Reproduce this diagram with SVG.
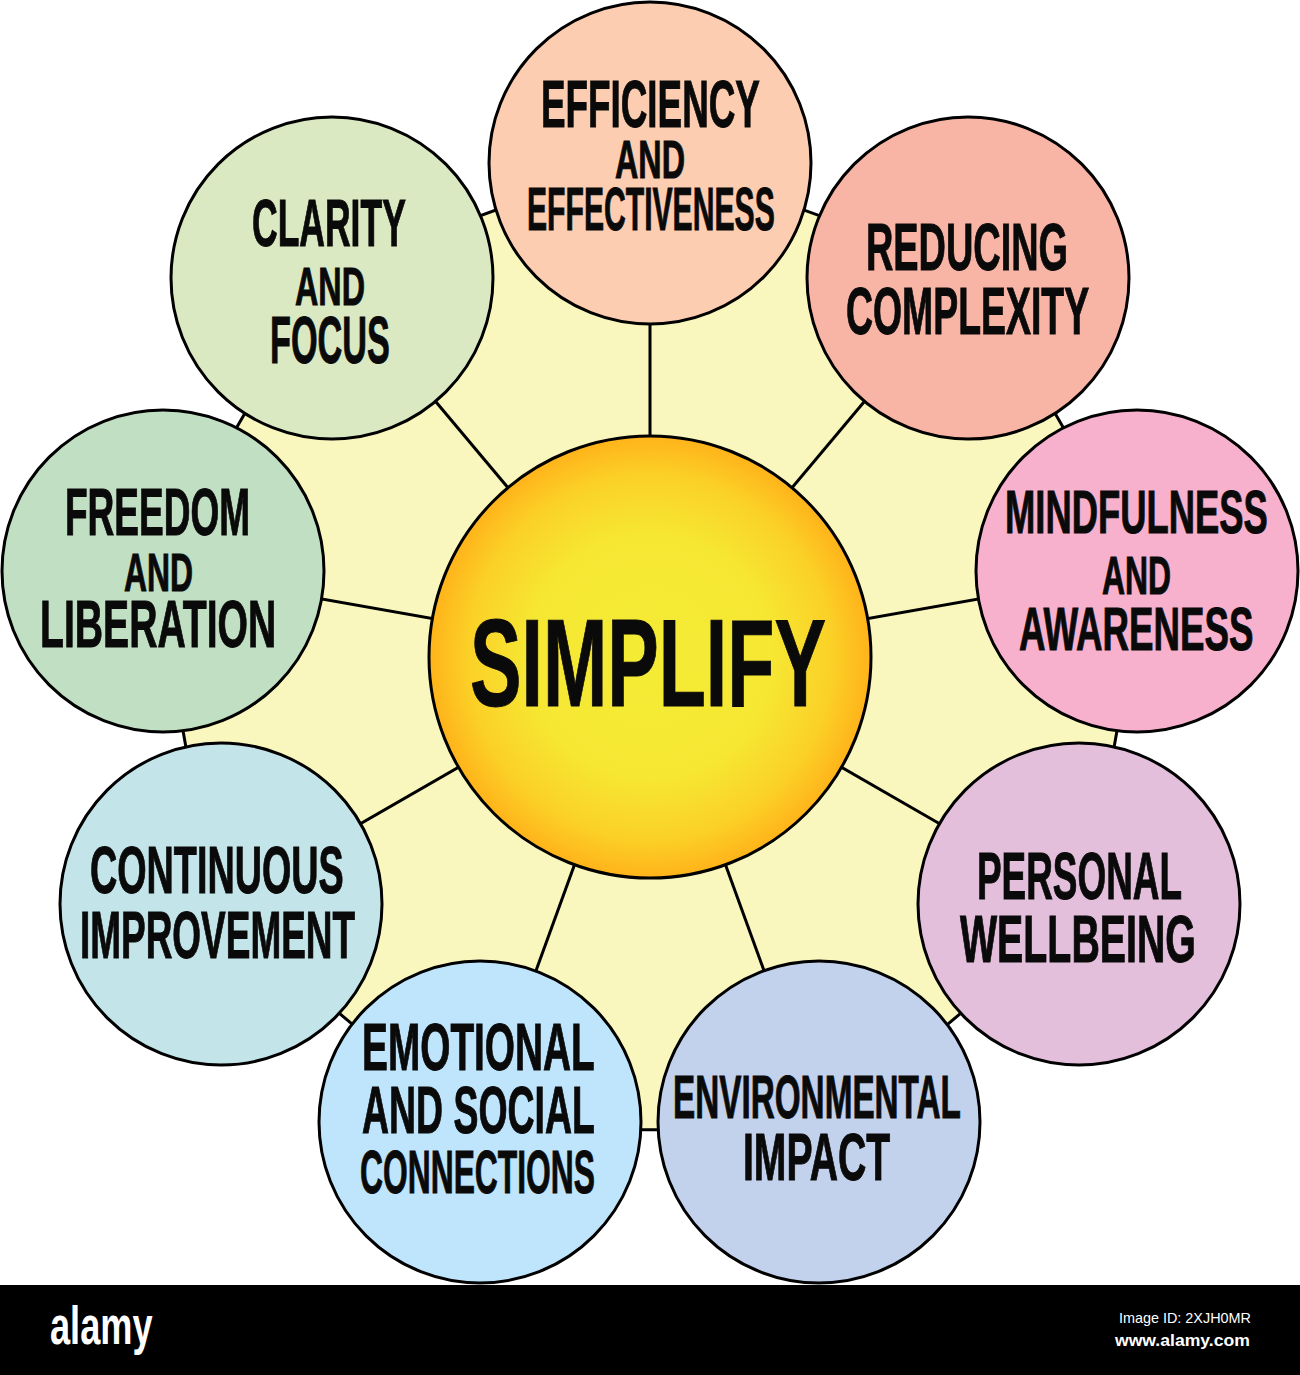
<svg xmlns="http://www.w3.org/2000/svg" width="1300" height="1375" viewBox="0 0 1300 1375">
<style>
.c{stroke:#000;stroke-width:3}
.t{font-family:"Liberation Sans",Arial,sans-serif;font-weight:700;fill:#0a0a0a;stroke:#0a0a0a;stroke-width:1}
.s{font-size:66px}.m{font-size:62px}.k{font-size:54px}
.w{font-family:"Liberation Sans",Arial,sans-serif;fill:#fff}
</style>
<defs>
<radialGradient id="sun" cx="50%" cy="50%" r="50%">
<stop offset="0" stop-color="#f4ec36"/><stop offset="0.55" stop-color="#f6e733"/><stop offset="0.82" stop-color="#fbd127"/><stop offset="1" stop-color="#ffb31a"/>
</radialGradient>
</defs>
<rect width="1300" height="1375" fill="#fff"/>
<g id="connectors">
<polygon points="650,154 973.3,271.7 1145.4,569.7 1085.6,908.5 822,1129.7 478,1129.7 214.4,908.5 154.6,569.7 326.7,271.7" fill="#f9f7bd" stroke="#000" stroke-width="3"/>
<g stroke="#000" stroke-width="3">
<line x1="650" y1="657" x2="650" y2="163"/>
<line x1="650" y1="657" x2="968" y2="278"/>
<line x1="650" y1="657" x2="1137" y2="571"/>
<line x1="650" y1="657" x2="1079" y2="904"/>
<line x1="650" y1="657" x2="819" y2="1122"/>
<line x1="650" y1="657" x2="481" y2="1122"/>
<line x1="650" y1="657" x2="221" y2="904"/>
<line x1="650" y1="657" x2="163" y2="571"/>
<line x1="650" y1="657" x2="332" y2="278"/>
</g>
</g>
<g id="node-simplify">
<circle class="c" cx="650" cy="657" r="221" fill="url(#sun)"/>
<text class="t" font-size="125" transform="translate(470 706) scale(.6175 1)">SIMPLIFY</text>
</g>
<g id="node-efficiency">
<circle class="c" cx="650" cy="163" r="161" fill="#fccdb0"/>
<text class="t s" transform="translate(541 127) scale(.558 1)">EFFICIENCY</text>
<text class="t k" transform="translate(615 178) scale(.598 1)">AND</text>
<text class="t m" transform="translate(527 230) scale(.486 1)">EFFECTIVENESS</text>
</g>
<g id="node-reducing">
<circle class="c" cx="968" cy="278" r="161" fill="#f8b5a6"/>
<text class="t s" transform="translate(866 270) scale(.574 1)">REDUCING</text>
<text class="t s" transform="translate(846 334) scale(.567 1)">COMPLEXITY</text>
</g>
<g id="node-mindfulness">
<circle class="c" cx="1137" cy="571" r="161" fill="#f8b1cc"/>
<text class="t m" transform="translate(1005 533) scale(.587 1)">MINDFULNESS</text>
<text class="t k" transform="translate(1102 594) scale(.59 1)">AND</text>
<text class="t m" transform="translate(1019 650) scale(.592 1)">AWARENESS</text>
</g>
<g id="node-personal">
<circle class="c" cx="1079" cy="904" r="161" fill="#e3bfdb"/>
<text class="t s" transform="translate(977 899) scale(.559 1)">PERSONAL</text>
<text class="t s" transform="translate(960 962) scale(.596 1)">WELLBEING</text>
</g>
<g id="node-environmental">
<circle class="c" cx="819" cy="1122" r="161" fill="#c2d1ec"/>
<text class="t m" transform="translate(673 1118) scale(.537 1)">ENVIRONMENTAL</text>
<text class="t s" transform="translate(743 1180) scale(.593 1)">IMPACT</text>
</g>
<g id="node-emotional">
<circle class="c" cx="480" cy="1122" r="161" fill="#bfe5fc"/>
<text class="t s" transform="translate(362 1070) scale(.588 1)">EMOTIONAL</text>
<text class="t s" transform="translate(362 1133) scale(.567 1)">AND SOCIAL</text>
<text class="t m" transform="translate(360 1193) scale(.513 1)">CONNECTIONS</text>
</g>
<g id="node-continuous">
<circle class="c" cx="221" cy="904" r="161" fill="#c3e5e9"/>
<text class="t s" transform="translate(90 893) scale(.572 1)">CONTINUOUS</text>
<text class="t s" transform="translate(80 958) scale(.56 1)">IMPROVEMENT</text>
</g>
<g id="node-freedom">
<circle class="c" cx="163" cy="571" r="161" fill="#c1dfc3"/>
<text class="t s" transform="translate(65 535) scale(.561 1)">FREEDOM</text>
<text class="t k" transform="translate(124 591) scale(.59 1)">AND</text>
<text class="t s" transform="translate(40 647) scale(.593 1)">LIBERATION</text>
</g>
<g id="node-clarity">
<circle class="c" cx="332" cy="278" r="161" fill="#dbe9c3"/>
<text class="t s" transform="translate(252 246) scale(.538 1)">CLARITY</text>
<text class="t k" transform="translate(295 305) scale(.598 1)">AND</text>
<text class="t s" transform="translate(270 363) scale(.519 1)">FOCUS</text>
</g>
<g id="footer">
<rect x="0" y="1285" width="1300" height="90" fill="#000"/>
<text class="w" font-size="54" font-weight="700" transform="translate(50 1344) scale(.67 1)">alamy</text>
<text class="w" font-size="15" transform="translate(1119 1323) scale(.96 1)">Image ID: 2XJH0MR</text>
<text class="w" font-size="16" font-weight="700" transform="translate(1115 1346) scale(1.1 1)">www.alamy.com</text>
</g>
</svg>
